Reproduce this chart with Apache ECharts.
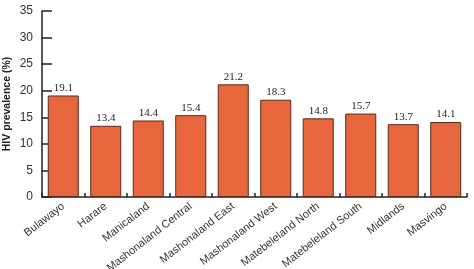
<!doctype html>
<html>
<head>
<meta charset="UTF-8"/>
<title>HIV prevalence by province</title>
<script src="https://cdn.jsdelivr.net/npm/echarts@6/dist/echarts.min.js"></script>
<style>
html,body{margin:0;padding:0;background:#fff;}
#chart{width:474px;height:269px;}
</style>
</head>
<body>
<div id="chart"></div>
<script>
var provinces = ['Bulawayo','Harare','Manicaland','Mashonaland Central','Mashonaland East','Mashonaland West','Matebeleland North','Matebeleland South','Midlands','Masvingo'];
var prevalence = [19.1, 13.4, 14.4, 15.4, 21.2, 18.3, 14.8, 15.7, 13.7, 14.1];
var yTicks = [0, 5, 10, 15, 20, 25, 30, 35];

var myChart = echarts.init(document.getElementById('chart'));

var option = {
    animation: false,
    grid: { left: 42, right: 7, top: 11, bottom: 72, containLabel: false, outerBoundsMode: 'none' },
    xAxis: {
        type: 'category',
        data: provinces,
        axisLine: { lineStyle: { color: '#222', width: 1.5 } },
        axisTick: { show: true, inside: true, length: 4, lineStyle: { color: '#222', width: 1.5 } },
        axisLabel: { rotate: 38, interval: 0, color: '#333', fontSize: 11, fontFamily: 'Liberation Sans', margin: 8 }
    },
    yAxis: {
        type: 'value',
        min: yTicks[0],
        max: yTicks[yTicks.length - 1],
        interval: 5,
        name: 'HIV prevalence (%)',
        nameLocation: 'middle',
        nameGap: 29,
        nameMoveOverlap: false,
        nameTextStyle: { fontWeight: 'bold', fontSize: 10.5, color: '#222', fontFamily: 'Liberation Sans' },
        axisLine: { show: true, lineStyle: { color: '#222', width: 1.5 } },
        axisTick: { show: true, inside: true, length: 10, lineStyle: { color: '#222', width: 1.5 } },
        axisLabel: { color: '#333', fontSize: 12, fontFamily: 'Liberation Sans', margin: 9 },
        splitLine: { show: false }
    },
    series: [{
        type: 'bar',
        data: prevalence,
        barWidth: '73%',
        itemStyle: { color: '#E8663D', borderColor: '#5a2a1a', borderWidth: 1 },
        label: { show: true, position: 'top', distance: 2, color: '#222', fontSize: 11, fontFamily: 'Liberation Serif' }
    }]
};

myChart.setOption(option);
</script>
</body>
</html>
